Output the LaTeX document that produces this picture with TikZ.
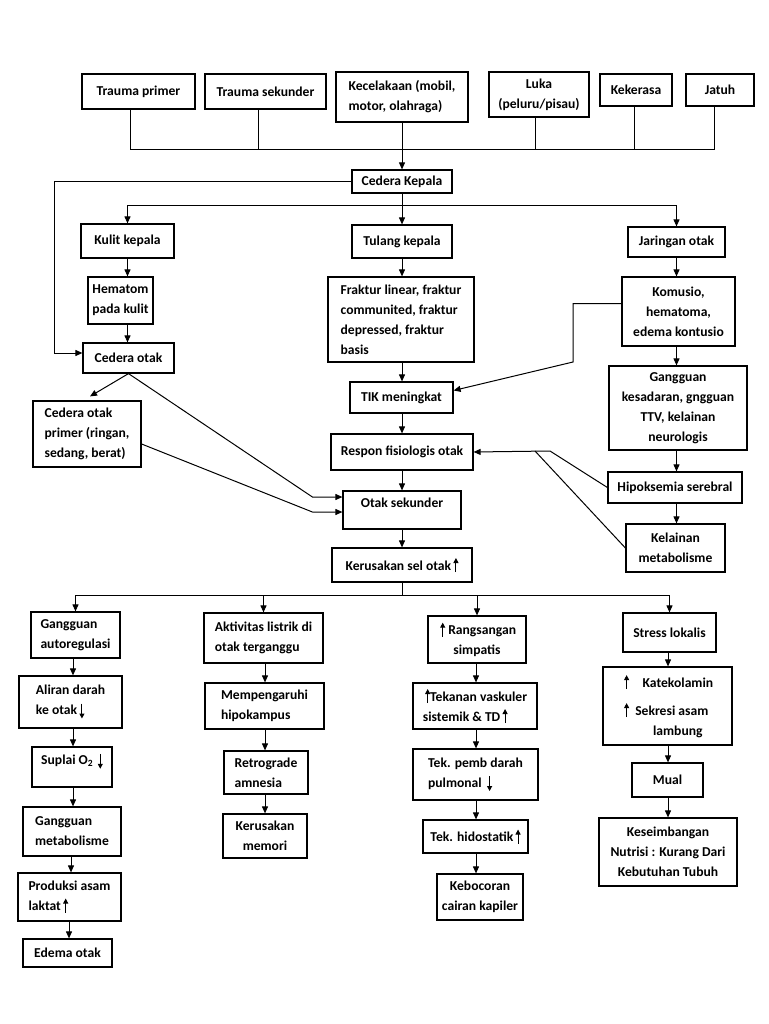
\documentclass[tikz,border=0pt]{standalone}
\usepackage{fontspec}
\setmainfont{Carlito}
\usetikzlibrary{arrows.meta}
\newcommand\upar{\,\tikz[baseline=0pt]\draw[line width=1pt,-{Triangle[length=5pt,width=5pt]}] (0pt,-2pt)--(0pt,12pt);}
\newcommand\dnar{\,\tikz[baseline=0pt]\draw[line width=1pt,-{Triangle[length=5pt,width=5pt]}] (0pt,11pt)--(0pt,-4pt);}
\newcommand\bxnode[7]{%
 \pgfmathsetmacro\bxw{#4-#2}\pgfmathsetmacro\bxh{#5-#3}%
 \pgfmathsetmacro\bxx{(#2+#4)/2}\pgfmathsetmacro\bxy{(#3+#5)/2}%
 \node[box,align=#6,minimum width=\bxw pt,minimum height=\bxh pt] (#1) at (\bxx,\bxy) {#7};}
\begin{document}
\begin{tikzpicture}[x=1pt,y=-1pt,
  box/.style={draw,line width=1.2pt,inner sep=2pt,font=\fontsize{13.6}{20}\selectfont\bfseries},
  arr/.style={-{Triangle[length=7pt,width=6pt]}},
  every path/.style={line width=1pt}]
\fill[white] (0,0) rectangle (768,1024);
% top row
\bxnode{TP}{82}{74}{195}{109}{center}{Trauma primer}
\bxnode{TS}{205}{74}{326}{109}{center}{Trauma sekunder}
\bxnode{Kec}{336}{72}{468}{122}{left}{Kecelakaan (mobil,\\motor, olahraga)}
\bxnode{Luka}{489}{72}{589}{117}{center}{Luka\\(peluru/pisau)}
\bxnode{Kek}{600}{74}{672}{106}{center}{Kekerasa}
\bxnode{Jat}{686}{74}{754}{106}{center}{Jatuh}
\bxnode{CK}{352}{170}{452}{193}{center}{Cedera Kepala}
% left branch
\bxnode{KK}{81}{224}{174}{258}{center}{Kulit kepala}
\bxnode{HK}{88}{277}{153}{324}{center}{Hematom\\pada kulit}
\bxnode{CO}{83}{343}{174}{373}{center}{Cedera otak}
\bxnode{COP}{33}{401}{141}{467}{left}{Cedera otak\\primer (ringan,\\sedang, berat)}
% middle
\bxnode{TK}{352}{225}{452}{258}{center}{Tulang kepala}
\bxnode{Fr}{328}{277}{474}{362}{left}{Fraktur linear, fraktur\\communited, fraktur\\depressed, fraktur\\basis}
\bxnode{TIK}{350}{382}{453}{413}{center}{TIK meningkat}
\bxnode{Resp}{331}{434}{473}{470}{center}{Respon fisiologis otak}
\bxnode{OS}{343}{491}{461}{529}{center}{Otak sekunder\\[-6pt]}
\bxnode{Ker}{332}{548}{472}{582}{center}{Kerusakan sel otak\upar}
% right
\bxnode{JO}{628}{227}{725}{257}{center}{Jaringan otak}
\bxnode{Kom}{622}{277}{735}{346}{center}{Komusio,\\hematoma,\\edema kontusio}
\bxnode{GK}{609}{366}{747}{450}{center}{Gangguan\\kesadaran, gngguan\\TTV, kelainan\\neurologis}
\bxnode{Hip}{608}{472}{742}{503}{center}{Hipoksemia serebral}
\bxnode{Kel}{626}{524}{725}{572}{center}{Kelainan\\metabolisme}
% bottom col 1
\bxnode{GA}{31}{612}{120}{658}{left}{Gangguan\\autoregulasi}
\bxnode{AD}{19}{676}{122}{728}{left}{Aliran darah\\ke otak\dnar}
\bxnode{SO}{32}{747}{112}{787}{center}{Suplai O\textsubscript{2}\,\dnar\\[-4pt]}
\bxnode{GM}{23}{807}{121}{856}{left}{Gangguan\\metabolisme}
\bxnode{PA}{18}{873}{121}{921}{left}{Produksi asam\\laktat\upar}
\bxnode{EO}{23}{939}{112}{967}{center}{Edema otak}
% col 2
\bxnode{AL}{204}{613}{323}{663}{left}{Aktivitas listrik di\\otak terganggu}
\bxnode{MH}{205}{683}{324}{729}{left}{Mempengaruhi\\hipokampus}
\bxnode{RA}{224}{751}{308}{794}{left}{Retrograde\\amnesia}
\bxnode{KM}{223}{814}{307}{858}{center}{Kerusakan\\memori}
% col 3
\bxnode{RS}{428}{616}{526}{663}{center}{\upar\ Rangsangan\\simpatis}
\bxnode{TV}{413}{683}{537}{729}{left}{\upar Tekanan vaskuler\\sistemik \& TD\upar}
\bxnode{TPD}{413}{749}{538}{800}{left}{Tek. pemb darah\\pulmonal \dnar}
\bxnode{TH}{423}{820}{528}{853}{center}{Tek. hidostatik\upar}
\bxnode{KC}{437}{874}{523}{920}{center}{Kebocoran\\cairan kapiler}
% col 4
\bxnode{SL}{623}{613}{716}{652}{center}{Stress lokalis}
\bxnode{KA}{603}{667}{732}{745}{left}{\upar\quad Katekolamin\\[8pt]\upar\ \ Sekresi asam\\\hspace{2.3em}lambung}
\bxnode{MU}{632}{763}{703}{797}{center}{Mual}
\bxnode{KS}{599}{818}{737}{886}{center}{Keseimbangan\\Nutrisi : Kurang Dari\\Kebutuhan Tubuh}

% top bus
\coordinate (bL) at (130,150); \coordinate (bR) at (714,150);
\coordinate (b2) at (258,150); \coordinate (b4) at (535,150); \coordinate (b5) at (634,150);
\draw (bL |- TP.south) -- (bL) -- (bR) -- (bR |- Jat.south);
\draw (b2 |- TS.south) -- (b2);
\draw (b4 |- Luka.south) -- (b4);
\draw (b5 |- Kek.south) -- (b5);
\draw[arr] (Kec.south) -- (CK.north);
% Cedera Kepala
\draw[arr] (CK.west) -- ++(-297,0) |- ([yshift=5pt]CO.west);
\coordinate (sp) at (402,206);
\draw[arr] (CK.south) -- (TK.north);
\draw[arr] (sp) -| (KK.north);
\draw[arr] (sp) -| (JO.north);
% left chain
\draw[arr] (KK.south) -- (KK.south |- HK.north);
\draw[arr] (KK.south |- HK.south) -- (KK.south |- CO.north);
\draw[arr] (CO.south) -- ([xshift=3pt,yshift=4pt]COP.north);
\coordinate (o1) at ([yshift=13pt]OS.west);
\coordinate (o2) at ([yshift=-2pt]OS.west);
\draw[arr] (CO.south) -- ([xshift=-30pt]o1) -- (o1);
\draw[arr] ([yshift=-10pt]COP.east) -- ([xshift=-30pt]o2) -- (o2);
% middle chain
\draw[arr] (TK.south) -- (TK.south |- Fr.north);
\draw[arr] (TK.south |- Fr.south) -- (TK.south |- TIK.north);
\draw[arr] (TK.south |- TIK.south) -- (TK.south |- Resp.north);
\draw[arr] (TK.south |- Resp.south) -- (TK.south |- OS.north);
\draw[arr] (TK.south |- OS.south) -- (TK.south |- Ker.north);
% right chain
\coordinate (kbend) at (573,362);
\draw[arr] ([yshift=8pt]Kom.west) -| (kbend) -- ([yshift=7pt]TIK.east);
\draw[arr] (JO.south) -- (JO.south |- Kom.north);
\draw[arr] (JO.south |- Kom.south) -- (JO.south |- GK.north);
\draw[arr] (JO.south |- GK.south) -- (JO.south |- Hip.north);
\draw[arr] (JO.south |- Hip.south) -- (JO.south |- Kel.north);
\coordinate (r1) at (550,451); \coordinate (r2) at (535,451);
\draw[arr] (Hip.west) -- (r1) -- (Resp.east);
\draw (Kel.west) -- (r2);
% bottom bus
\coordinate (kb) at (402,595);
\draw (Ker.south) -- (kb);
\draw[arr] (kb) -| (GA.north);
\draw[arr] (kb) -| (AL.north);
\draw[arr] (kb) -| (RS.north);
\draw[arr] (kb) -| (SL.north);
% col 1
\coordinate (c1) at (73,0);
\draw[arr] (c1 |- GA.south) -- (c1 |- AD.north);
\draw[arr] (c1 |- AD.south) -- (c1 |- SO.north);
\draw[arr] (c1 |- SO.south) -- (c1 |- GM.north);
\draw[arr] ([xshift=-2pt]c1 |- GM.south) -- ([xshift=-2pt]c1 |- PA.north);
\draw[arr] ([xshift=-4pt]c1 |- PA.south) -- ([xshift=-4pt]c1 |- EO.north);
% col 2
\coordinate (c2) at (265,0);
\draw[arr] (c2 |- AL.south) -- (c2 |- MH.north);
\draw[arr] (c2 |- MH.south) -- (c2 |- RA.north);
\draw[arr] (c2 |- RA.south) -- (c2 |- KM.north);
% col 3
\coordinate (c3) at (476,0);
\draw[arr] (c3 |- RS.south) -- (c3 |- TV.north);
\draw[arr] (c3 |- TV.south) -- (c3 |- TPD.north);
\draw[arr] (c3 |- TPD.south) -- (c3 |- TH.north);
\draw[arr] (c3 |- TH.south) -- (c3 |- KC.north);
% col 4
\coordinate (c4) at (668,0);
\draw[arr] (c4 |- SL.south) -- (c4 |- KA.north);
\draw[arr] (c4 |- KA.south) -- (c4 |- MU.north);
\draw[arr] (c4 |- MU.south) -- (c4 |- KS.north);
\end{tikzpicture}
\end{document}
